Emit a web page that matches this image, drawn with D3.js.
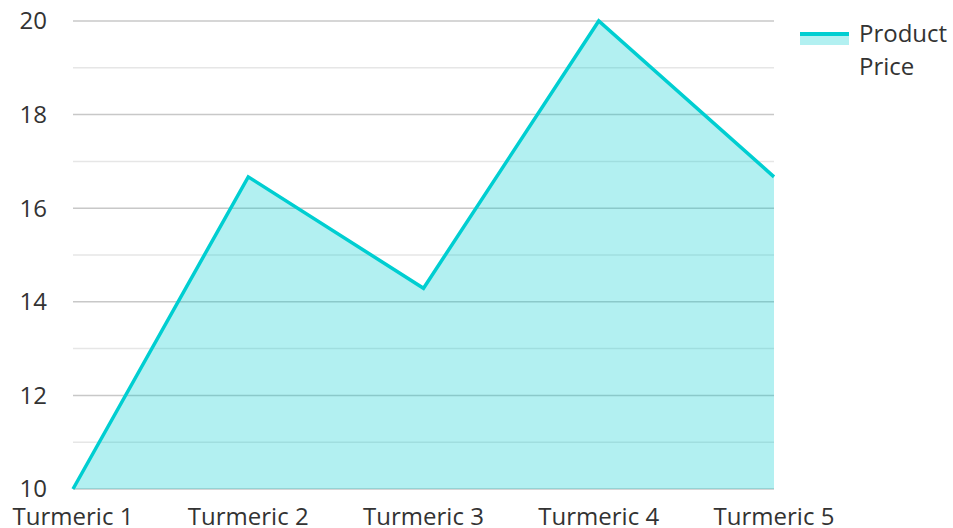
<!DOCTYPE html>
<html>
<head>
<meta charset="utf-8">
<script src="https://cdn.jsdelivr.net/npm/d3@7"></script>
<style>
  body { margin: 0; background: #fff; }
  text { font-family: "Open Sans", sans-serif; fill: #333; }
</style>
</head>
<body>
<svg id="chart" width="953" height="528"></svg>
<script>
// data
const categories = ["Turmeric 1", "Turmeric 2", "Turmeric 3", "Turmeric 4", "Turmeric 5"];
const prices = [10, 16.67, 14.29, 20, 16.67];
const yTicks = [10, 12, 14, 16, 18, 20];
const yMinorTicks = [11, 13, 15, 17, 19];
const seriesName = ["Product", "Price"];

const color = "#00ced1";
const margin = { left: 73, right: 179, top: 21, bottom: 39 };
const width = 953, height = 528;

const svg = d3.select("#chart");

const x = d3.scalePoint()
  .domain(categories)
  .range([margin.left, width - margin.right]);

const y = d3.scaleLinear()
  .domain([10, 20])
  .range([height - margin.bottom, margin.top]);

// grid lines
svg.append("g")
  .selectAll("line")
  .data(yMinorTicks)
  .enter().append("line")
    .attr("x1", margin.left).attr("x2", width - margin.right)
    .attr("y1", d => y(d)).attr("y2", d => y(d))
    .attr("stroke", "#e6e6e6")
    .attr("stroke-width", 1.5);

svg.append("g")
  .selectAll("line")
  .data(yTicks)
  .enter().append("line")
    .attr("x1", margin.left).attr("x2", width - margin.right)
    .attr("y1", d => y(d)).attr("y2", d => y(d))
    .attr("stroke", "#c8c8c8")
    .attr("stroke-width", 1.5);

// y labels
svg.append("g")
  .selectAll("text")
  .data(yTicks)
  .enter().append("text")
    .attr("x", 47)
    .attr("y", d => y(d))
    .attr("dy", "0.35em")
    .attr("text-anchor", "end")
    .style("font-size", "24px")
    .text(d => d);

// x labels
svg.append("g")
  .selectAll("text")
  .data(categories)
  .enter().append("text")
    .attr("x", d => x(d))
    .attr("y", 525)
    .attr("text-anchor", "middle")
    .style("font-size", "24px")
    .text(d => d);

const pts = categories.map((c, i) => [c, prices[i]]);

const area = d3.area()
  .x(d => x(d[0]))
  .y0(y(10))
  .y1(d => y(d[1]));

const line = d3.line()
  .x(d => x(d[0]))
  .y(d => y(d[1]));

svg.append("path")
  .datum(pts)
  .attr("d", area)
  .attr("fill", color)
  .attr("fill-opacity", 0.3);

svg.append("path")
  .datum(pts)
  .attr("d", line)
  .attr("fill", "none")
  .attr("stroke", color)
  .attr("stroke-width", 3.5)
  .attr("stroke-linejoin", "miter");

// legend
const lg = svg.append("g");
lg.append("rect")
  .attr("x", 800).attr("y", 32)
  .attr("width", 49).attr("height", 13)
  .attr("fill", color).attr("fill-opacity", 0.3);
lg.append("line")
  .attr("x1", 800).attr("x2", 849)
  .attr("y1", 34).attr("y2", 34)
  .attr("stroke", color).attr("stroke-width", 4);
lg.selectAll("text")
  .data(seriesName)
  .enter().append("text")
    .attr("x", 859)
    .attr("y", (d, i) => 42 + i * 33)
    .style("font-size", "24px")
    .text(d => d);
</script>
</body>
</html>
